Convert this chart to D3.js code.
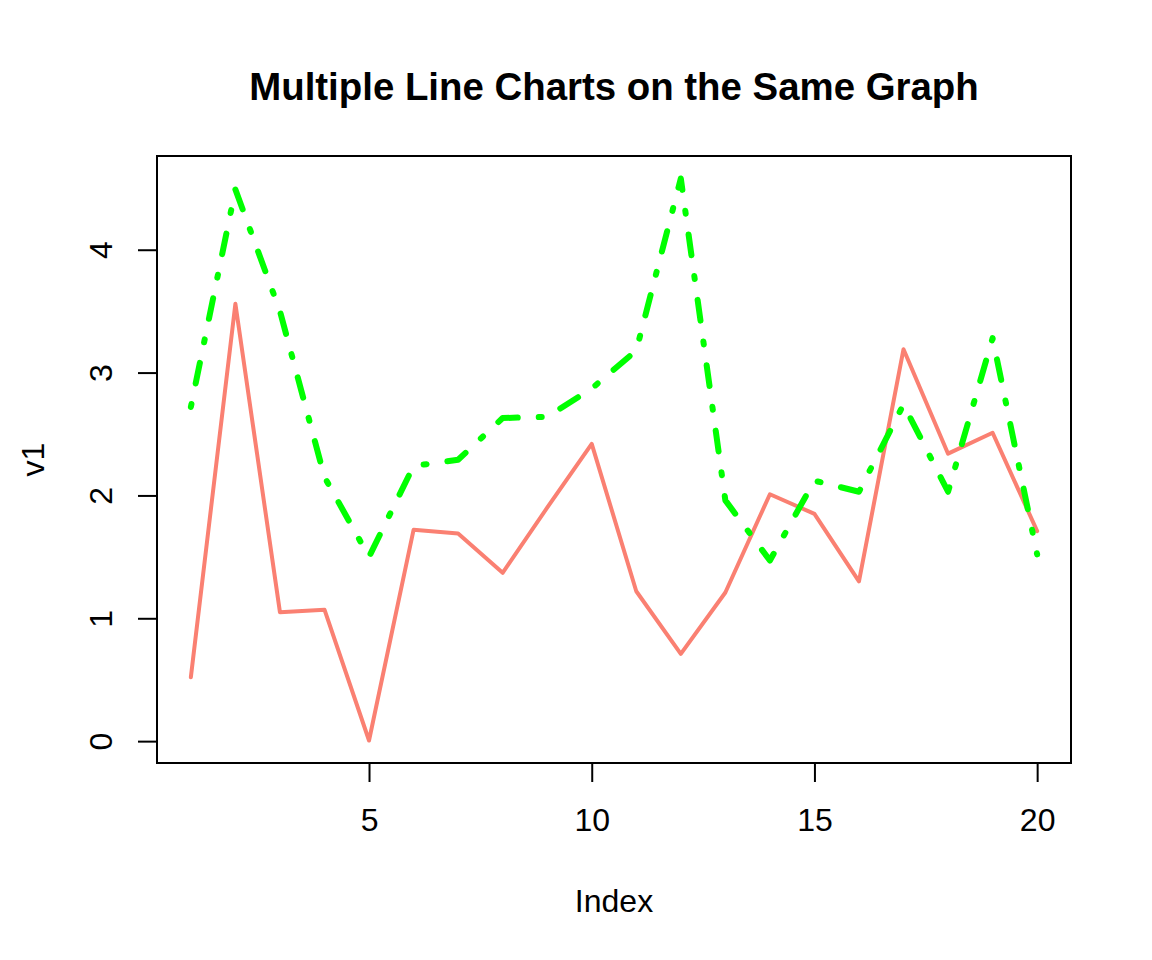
<!DOCTYPE html>
<html>
<head>
<meta charset="utf-8">
<script src="https://cdn.jsdelivr.net/npm/d3@7"></script>
<style>
  html, body { margin: 0; padding: 0; background: #ffffff; }
  svg { display: block; }
  text { font-family: "Liberation Sans", Arial, Helvetica, sans-serif; fill: #000; }
</style>
</head>
<body>
<svg id="chart" width="1152" height="960"></svg>
<script>
// ---- data ----
const indexValues = [1, 2, 3, 4, 5, 6, 7, 8, 9, 10, 11, 12, 13, 14, 15, 16, 17, 18, 19, 20];
const v1 = [0.52, 3.56, 1.05, 1.07, 0.005, 1.72, 1.69, 1.37, 1.90, 2.42, 1.22, 0.71, 1.21, 2.01, 1.85, 1.30, 3.19, 2.34, 2.51, 1.71];
const v2 = [2.72, 4.49, 3.50, 2.15, 1.50, 2.24, 2.29, 2.63, 2.64, 2.87, 3.18, 4.58, 1.96, 1.47, 2.12, 2.03, 2.74, 2.03, 3.28, 1.52];
const xTicks = [5, 10, 15, 20];
const yTicks = [0, 1, 2, 3, 4];
const titleText = "Multiple Line Charts on the Same Graph";
const xLabel = "Index";
const yLabel = "v1";

(function () {
// ---- layout ----
const pLeft = 157, pRight = 1071, pTop = 156, pBottom = 763;
const svg = d3.select("#chart");
svg.append("rect").attr("width", 1152).attr("height", 960).attr("fill", "#fff");

// R-style 4% padding
const xExt = d3.extent(indexValues);
const xPad = (xExt[1] - xExt[0]) * 0.04;
const x = d3.scaleLinear().domain([xExt[0] - xPad, xExt[1] + xPad]).range([pLeft, pRight]);

const yExt = d3.extent(v1.concat(v2));
const yPad = (yExt[1] - yExt[0]) * 0.04;
const y = d3.scaleLinear().domain([yExt[0] - yPad, yExt[1] + yPad]).range([pBottom, pTop]);

// lines
const line = (vals) => d3.line()
  .x((d, i) => x(indexValues[i]))
  .y(d => y(d))(vals);

svg.append("path")
  .attr("d", line(v1))
  .attr("fill", "none")
  .attr("stroke", "#FA8072")
  .attr("stroke-width", 4)
  .attr("stroke-linejoin", "round")
  .attr("stroke-linecap", "round");

svg.append("path")
  .attr("d", line(v2))
  .attr("fill", "none")
  .attr("stroke", "#00FF00")
  .attr("stroke-width", 6)
  .attr("stroke-linejoin", "round")
  .attr("stroke-linecap", "round")
  .attr("stroke-dasharray", "3,21,21,21");

// box
svg.append("rect")
  .attr("x", pLeft).attr("y", pTop)
  .attr("width", pRight - pLeft).attr("height", pBottom - pTop)
  .attr("fill", "none").attr("stroke", "#000").attr("stroke-width", 2);

// x axis
const xAxis = d3.axisBottom(x).tickValues(xTicks).tickSize(19).tickPadding(0).tickFormat(d3.format("d"));
const gx = svg.append("g").attr("transform", `translate(0,${pBottom})`).call(xAxis);
gx.select(".domain").remove();
gx.selectAll(".tick line").attr("stroke", "#000").attr("stroke-width", 2);
gx.selectAll(".tick text").remove();
gx.selectAll(".tick").append("text")
  .attr("x", 0).attr("y", 68)
  .attr("text-anchor", "middle")
  .style("font-size", "32px")
  .text(d => d);

// y axis
const yAxis = d3.axisLeft(y).tickValues(yTicks).tickSize(19).tickPadding(0).tickFormat(d3.format("d"));
const gy = svg.append("g").attr("transform", `translate(${pLeft},0)`).call(yAxis);
gy.select(".domain").remove();
gy.selectAll(".tick line").attr("stroke", "#000").attr("stroke-width", 2);
gy.selectAll(".tick text").remove();
gy.selectAll(".tick").append("text")
  .attr("transform", "translate(-45.5,0) rotate(-90)")
  .attr("text-anchor", "middle")
  .style("font-size", "32px")
  .text(d => d);

// title and axis labels
svg.append("text")
  .attr("x", (pLeft + pRight) / 2).attr("y", 100)
  .attr("text-anchor", "middle")
  .style("font-size", "38.4px").style("font-weight", "bold")
  .text(titleText);

svg.append("text")
  .attr("x", (pLeft + pRight) / 2).attr("y", 912)
  .attr("text-anchor", "middle")
  .style("font-size", "32px")
  .text(xLabel);

svg.append("text")
  .attr("transform", `translate(44,${(pTop + pBottom) / 2}) rotate(-90)`)
  .attr("text-anchor", "middle")
  .style("font-size", "32px")
  .text(yLabel);
})();
</script>
</body>
</html>
